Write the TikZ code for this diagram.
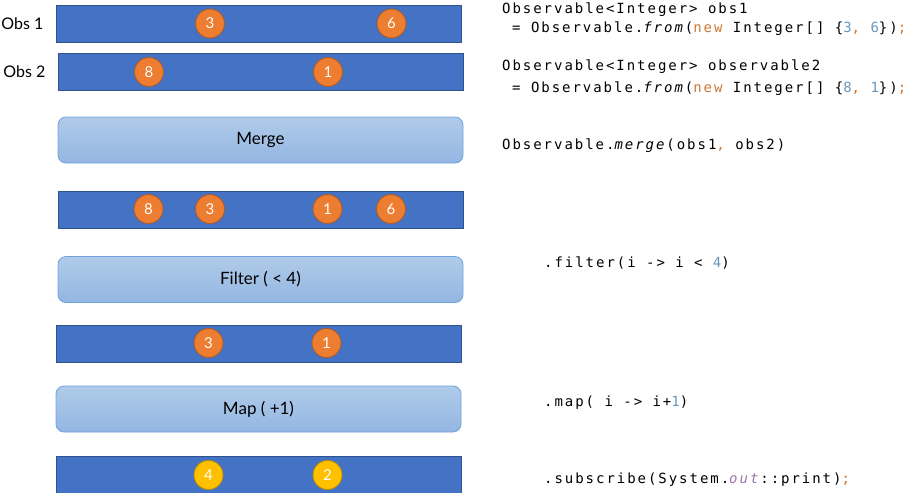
\documentclass[tikz,border=0pt]{standalone}
\usepackage{fontspec}
\setmainfont{Lato}
\newfontfamily\codefont{DejaVu Sans Mono}[LetterSpace=14]
\usetikzlibrary{positioning}
\definecolor{barBlue}{HTML}{4472C4}
\definecolor{barLine}{HTML}{2F528F}
\definecolor{ballOrange}{HTML}{ED7D31}
\definecolor{ballLine}{HTML}{AE5A21}
\definecolor{ballYellow}{HTML}{FFC000}
\definecolor{ballYLine}{HTML}{BC8C00}
\definecolor{opTop}{HTML}{B0CBEA}
\definecolor{opBottom}{HTML}{93B6E1}
\definecolor{opLine}{HTML}{6FA3DC}
\definecolor{kwOrange}{HTML}{CC7832}
\definecolor{numBlue}{HTML}{6897BB}
\definecolor{fieldPurple}{HTML}{9876AA}
\newcommand\jkw[1]{\textcolor{kwOrange}{#1}}
\newcommand\jnum[1]{\textcolor{numBlue}{#1}}
\newcommand\jfield[1]{\textcolor{fieldPurple}{\textit{#1}}}
\begin{document}
\begin{tikzpicture}[x=1pt,y=-1pt,
  bar/.style={draw=barLine,line width=.8pt,fill=barBlue,minimum width=405pt,minimum height=37pt,inner sep=0pt},
  op/.style={draw=opLine,line width=.8pt,rounded corners=8pt,top color=opTop,bottom color=opBottom,
             minimum width=405pt,minimum height=46pt,font=\fontsize{17}{20}\selectfont},
  ball/.style={circle,draw=ballLine,line width=.8pt,fill=ballOrange,minimum size=29pt,inner sep=0pt,
               text=white,font=\fontsize{15}{17}\selectfont},
  yball/.style={ball,draw=ballYLine,fill=ballYellow},
  obsname/.style={font=\fontsize{16}{19}\selectfont,inner sep=0pt},
  code/.style={anchor=base west,inner sep=0pt,font=\codefont\fontsize{14}{19}\selectfont}]
\useasboundingbox (0,0) rectangle (911,493);
% Obs 1
\node[bar] (obsA) at (258.5,23.5) {};
\node[obsname,left=12pt of obsA] (obsAname) {Obs 1};
\node[ball] (obsA3) at (210,23.5) {3};
\node[ball] (obsA6) at (391.5,23.5) {6};
% Obs 2
\node[bar] (obsB) at (260.5,72) {};
\node[obsname,left=12pt of obsB] (obsBname) {Obs 2};
\node[ball] (obsB8) at (149,72) {8};
\node[ball] (obsB1) at (328,72) {1};
% Merge
\node[op] (merge) at (260.5,140) {Merge};
\node[bar] (merged) at (260.5,209.5) {};
\node[ball] (merged8) at (148.5,209) {8};
\node[ball] (merged3) at (210,209) {3};
\node[ball] (merged1) at (327.5,209) {1};
\node[ball] (merged6) at (391,209) {6};
% Filter
\node[op] (filter) at (260.5,279.5) {Filter ( < 4)};
\node[bar] (filtered) at (258.5,343.5) {};
\node[ball] (filtered3) at (208.5,343) {3};
\node[ball] (filtered1) at (326.5,343) {1};
% Map
\node[op] (map) at (258.5,409) {Map ( +1)};
\node[bar] (mapped) at (258.5,474.5) {};
\node[yball] (mapped4) at (208.5,475) {4};
\node[yball] (mapped2) at (327.5,475) {2};
% code
\node[code] (codeA) at (502,13.3) {Observable<Integer> obs1};
\node[code] (codeB) at (512,32) {= Observable.\textit{from}(\jkw{new} Integer[] \{\jnum{3}\jkw{,} \jnum{6}\})\jkw{;}};
\node[code] (codeC) at (502,70) {Observable<Integer> observable2};
\node[code] (codeD) at (512,92) {= Observable.\textit{from}(\jkw{new} Integer[] \{\jnum{8}\jkw{,} \jnum{1}\})\jkw{;}};
\node[code] (codeE) at (502,149.3) {Observable.\textit{merge}(obs1\jkw{,} obs2)};
\node[code] (codeF) at (544,267.3) {.filter(i -> i < \jnum{4})};
\node[code] (codeG) at (544,406) {.map( i -> i+\jnum{1})};
\node[code] (codeH) at (544,483.3) {.subscribe(System.\jfield{out}::print)\jkw{;}};
\end{tikzpicture}
\end{document}
